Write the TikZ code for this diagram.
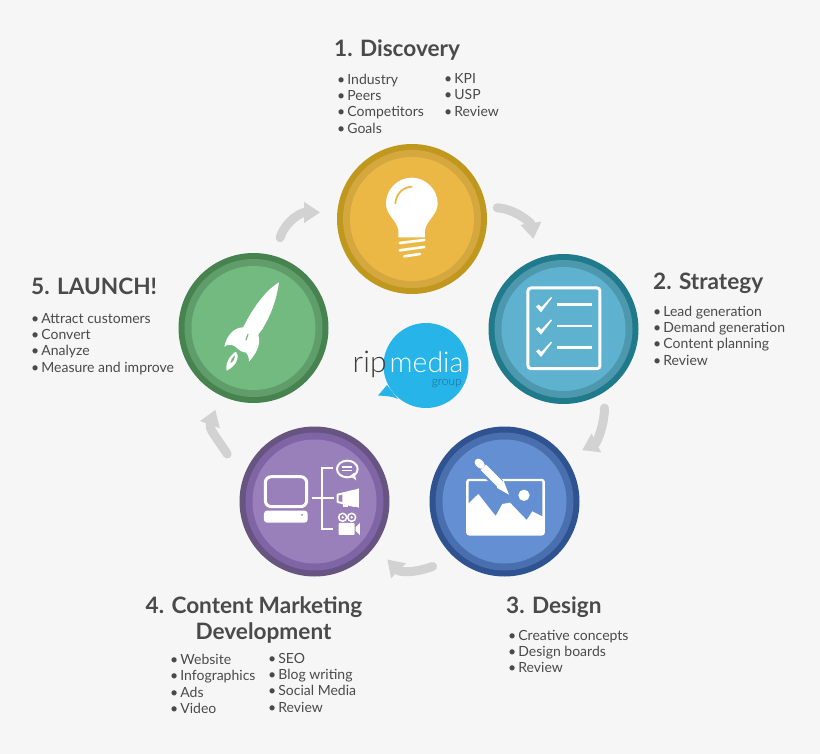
\documentclass[tikz,border=0pt]{standalone}
\usepackage{fontspec}
\setmainfont{Lato}
\newfontfamily\logofont{Lato Light}
\usetikzlibrary{arrows.meta}

\definecolor{bggrey}{HTML}{F6F6F6}
\definecolor{txtgrey}{HTML}{4A4A4A}
\definecolor{arrowgrey}{HTML}{D2D2D2}
\definecolor{golda}{HTML}{C1981E}
\definecolor{goldb}{HTML}{D5A83F}
\definecolor{goldc}{HTML}{ECB845}
\definecolor{teala}{HTML}{1F7B8C}
\definecolor{tealb}{HTML}{4E98AE}
\definecolor{tealc}{HTML}{5EB1CF}
\definecolor{bluea}{HTML}{2F5291}
\definecolor{blueb}{HTML}{4A6FAF}
\definecolor{bluec}{HTML}{648FD2}
\definecolor{purplea}{HTML}{675481}
\definecolor{purpleb}{HTML}{7F65A5}
\definecolor{purplec}{HTML}{9A80BA}
\definecolor{greena}{HTML}{47834F}
\definecolor{greenb}{HTML}{5F9D6B}
\definecolor{greenc}{HTML}{72BA7F}
\definecolor{logoblue}{HTML}{27B4E8}

\newcommand{\itm}{•\kern-1.5pt\ }

\tikzset{stage/.style n args={3}{circle,minimum size=150pt,inner sep=0pt,fill=#1,
  path picture={\fill[#2] (path picture bounding box.center) circle (69pt);
    \fill[#3] (path picture bounding box.center) circle (62pt);}}}
\tikzset{ttl/.style={font=\fontsize{22.6}{26}\selectfont\bfseries,text=txtgrey,inner sep=0pt,anchor=base west}}
\tikzset{items/.style={font=\fontsize{14}{16.35}\selectfont,text=txtgrey,inner sep=0pt,anchor=west,align=left}}
\tikzset{flow/.style={draw=arrowgrey,line width=9pt,line cap=round,-{Triangle[length=16pt,width=20pt]}}}
\tikzset{icon/.style={line width=3pt,line cap=round,line join=round}}

\begin{document}
\begin{tikzpicture}[x=1pt,y=-1pt]
\fill[bggrey] (0,0) rectangle (820,754);
\useasboundingbox (0,0) rectangle (820,754);

\node [stage={golda}{goldb}{goldc}] (disc) at (412,219) {};
\node [stage={teala}{tealb}{tealc}] (strat) at (563.5,329) {};
\node [stage={bluea}{blueb}{bluec}] (design) at (504.5,501.5) {};
\node [stage={purplea}{purpleb}{purplec}] (content) at (314.5,501.5) {};
\node [stage={greena}{greenb}{greenc}] (launch) at (253.5,328) {};

\draw [flow,shorten <=11pt,shorten >=20pt] (disc.9) to[out=-3,in=99,out looseness=1,in looseness=1.3] (strat.111);
\draw [flow,shorten <=16pt,shorten >=18pt] (strat.-57) to[out=-90,in=27,out looseness=1.1,in looseness=1.15] (design.35);
\draw [flow,shorten <=24pt,shorten >=18pt] (design.-131) to[out=-160,in=-45,out looseness=1.35,in looseness=1.15] (content.-37);
\draw [flow,shorten <=29pt,shorten >=15pt] (content.162) to[out=123,in=-110,out looseness=1.55,in looseness=1.05] (launch.-116);
\draw [flow,shorten <=19pt,shorten >=17pt] (launch.74) to[out=72,in=180,out looseness=1.2,in looseness=1.23] (disc.175);

% bulb
\begin{scope}[shift={(330,140)},x=0.3333pt,y=-0.3333pt]
\fill[white] (205,292) -- (205,270) .. controls (200,240) and (168,225) .. (168,190)
  .. controls (168,148) and (203,113) .. (245,113) .. controls (287,113) and (323,148) .. (323,190)
  .. controls (323,225) and (290,240) .. (285,270) -- (285,292) -- cycle;
\draw[goldc,line width=1.8pt,line cap=round] (196,190) .. controls (198,165) and (215,142) .. (245,140);
\draw[white,icon,line width=2.6pt] (209,309) -- (283,300);
\draw[white,icon,line width=2.6pt] (209,331) -- (283,321);
\draw[white,icon,line width=2.6pt] (223,349) -- (270,342);
\end{scope}

% checklist
\begin{scope}[shift={(480,250)},x=0.3333pt,y=-0.3333pt]
\draw[white,line width=3pt,rounded corners=3pt] (144,114) rectangle (360,356);
\foreach \yy in {0,67,134} {
  \fill[white] (168,170+\yy) -- (176,164+\yy) -- (184,172+\yy) -- (213,141+\yy) -- (216,144+\yy) -- (183,187+\yy) -- cycle;
  \draw[white,line width=2.6pt] (230,163+\yy-2*\yy/67) -- (336,163+\yy-2*\yy/67);
}
\end{scope}

% picture and pencil
\begin{scope}[shift={(425,420)},x=0.3333pt,y=-0.3333pt]
\draw[white,line width=2.4pt,rounded corners=2pt] (127,180) rectangle (356,343);
\fill[white] (129,341) -- (129,252) -- (160,222) -- (212,288) -- (232,252) -- (255,248) -- (305,300)
  -- (322,274) -- (354,290) -- (354,341) -- cycle;
\fill[white] (297,226) circle (17);
\draw[bluec,line width=11pt] (160,130) -- (232,203);
\draw[white,line width=7.5pt,line cap=round] (160,127) -- (168,135);
\draw[white,line width=7.5pt] (175,142) -- (226,193);
\fill[white] (215,203) -- (236,183) -- (252,224) -- cycle;
\end{scope}

% computer and media
\begin{scope}[shift={(235,420)},x=0.3333pt,y=-0.3333pt]
\draw[white,line width=3pt,rounded corners=6pt] (91,170) rectangle (215,260);
\fill[white,rounded corners=3pt] (87,272) rectangle (218,308);
\fill[purplec] (201,285) circle (3);
\draw[white,line width=2pt] (295,145) -- (262,145) -- (262,326) -- (295,326);
\draw[white,line width=2pt] (232,235) -- (298,235);
\draw[white,line width=2pt] (337,147) ellipse (31 and 25);
\fill[white] (345,168) -- (364,181) -- (358,158) -- cycle;
\draw[white,line width=1.5pt] (322,141) -- (352,141);
\draw[white,line width=1.5pt] (322,152) -- (352,152);
\draw[white,line width=2pt,line join=round] (308,224) -- (358,212) -- (358,258) -- (308,246) -- cycle;
\fill[white] (322,222) -- (372,205) -- (372,263) -- (322,248) -- cycle;
\draw[white,line width=1.5pt] (325,250) -- (325,258) -- (340,258);
\draw[white,line width=1.5pt] (323,292) circle (12);
\draw[white,line width=1.5pt] (350,292) circle (12);
\fill[white] (323,292) circle (4);
\fill[white] (350,292) circle (4);
\fill[white,rounded corners=1pt] (311,309) rectangle (359,345);
\fill[white] (362,322) -- (375,309) -- (375,345) -- (362,333) -- cycle;
\end{scope}

% rocket
\begin{scope}[shift={(175,250)},x=0.3333pt,y=-0.3333pt]
\fill[white] (312,97) .. controls (305,150) and (285,200) .. (265,232)
  .. controls (262,240) and (252,248) .. (250,255) .. controls (260,285) and (240,315) .. (222,335)
  .. controls (222,322) and (218,312) .. (212,307) .. controls (205,308) and (195,303) .. (187,295)
  .. controls (175,283) and (160,280) .. (148,290) .. controls (155,255) and (178,232) .. (205,232)
  .. controls (225,190) and (265,125) .. (312,97) -- cycle;
\draw[greenc,line width=1.2pt,line cap=round] (219,253) -- (213,270);
\fill[white] (155,362) .. controls (150,340) and (165,315) .. (183,305) .. controls (193,315) and (190,345) .. (155,362) -- cycle;
\fill[greenc] (166,340) .. controls (167,330) and (172,322) .. (180,316) .. controls (182,325) and (176,333) .. (166,340) -- cycle;
\end{scope}

% logo
\fill[logoblue] (387,385) -- (378,395.5) .. controls (385,396) and (392,396) .. (398,399) -- cycle;
\node [circle,fill=logoblue,minimum size=85pt,inner sep=0pt] (bubble) at (426,365.5) {};
\node [font=\logofont\fontsize{30}{31}\selectfont,text=txtgrey!80!black,anchor=base west,inner sep=0pt] (rip) at (352.5,373) {rip};
\node [font=\logofont\fontsize{28.5}{31}\selectfont,text=white,anchor=base west,inner sep=0pt] (media) at (389.5,373) {media};
\node [font=\logofont\fontsize{12}{13}\selectfont,text=logoblue!60!black,anchor=base east,inner sep=0pt] (group) at (462,385) {group};

% texts
\node [ttl] (t1) at (334,57) {1. Discovery};
\node [items] (l1a) at (337,103.5) {\itm Industry\\\itm Peers\\\itm Competitors\\\itm Goals};
\node [items] (l1b) at (444,95) {\itm KPI\\\itm USP\\\itm Review};
\node [ttl] (t2) at (653,290) {2. Strategy};
\node [items] (l2) at (653,335.5) {\itm Lead generation\\\itm Demand generation\\\itm Content planning\\\itm Review};
\node [ttl] (t3) at (506,613) {3. Design};
\node [items] (l3) at (508,651.3) {\itm Creative concepts\\\itm Design boards\\\itm Review};
\node [ttl,anchor=center,align=center] (t4) at (254,619.5) {4. Content Marketing\\\hspace*{19pt}Development};
\node [items] (l4a) at (170,684) {\itm Website\\\itm Infographics\\\itm Ads\\\itm Video};
\node [items] (l4b) at (268,682.5) {\itm SEO\\\itm Blog writing\\\itm Social Media\\\itm Review};
\node [ttl] (t5) at (31,295) {5. LAUNCH!};
\node [items] (l5) at (31,344) {\itm Attract customers\\\itm Convert\\\itm Analyze\\\itm Measure and improve};
\end{tikzpicture}
\end{document}
